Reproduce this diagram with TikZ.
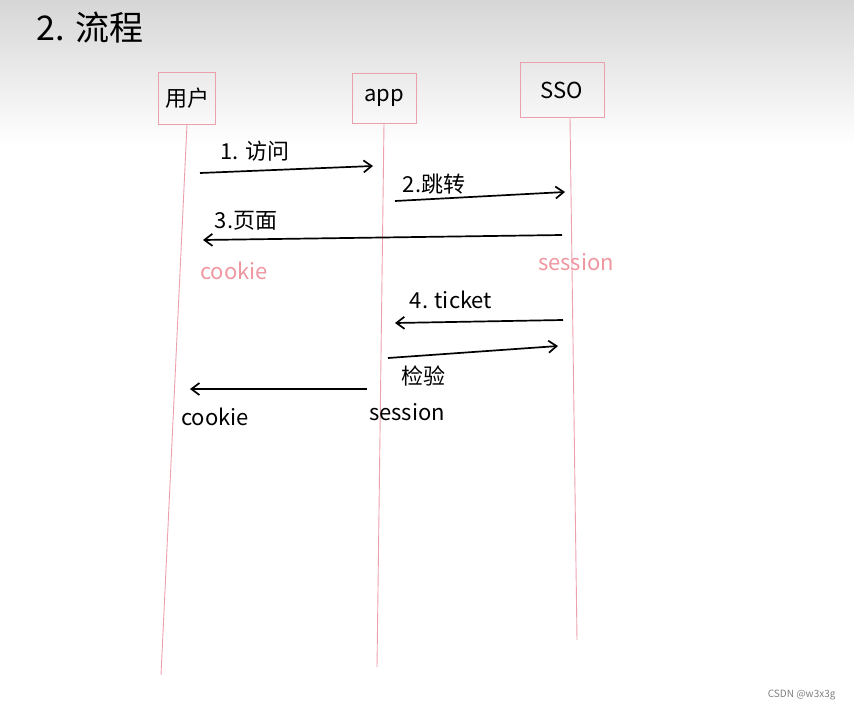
\documentclass[tikz,border=0pt]{standalone}
\usepackage{fontspec}
\setmainfont{Noto Sans CJK SC}
\usepackage{tikz}
\usetikzlibrary{arrows.meta}
\definecolor{pinkline}{RGB}{236,160,172}
\definecolor{pinktext}{RGB}{240,150,160}
\definecolor{topgray}{RGB}{214,214,214}

\begin{document}
\begin{tikzpicture}[x=1pt,y=-1pt,
  lifebox/.style={draw=pinkline,line width=0.9pt,minimum height=52pt,inner sep=0pt,font=\fontsize{22}{24}\selectfont},
  lifeline/.style={pinkline,line width=0.9pt},
  msg/.style={line width=1.7pt,-{Straight Barb[length=8pt,width=12pt]}},
  lbl/.style={font=\fontsize{22}{24}\selectfont},
  memo/.style={pinktext,font=\fontsize{22}{24}\selectfont}]
\useasboundingbox (0,0) rectangle (854,712);
\shade[top color=topgray,bottom color=white] (0,0) rectangle (854,145);
\node[font=\fontsize{34}{36}\selectfont] (title) at (90,28) {2. 流程};
\node[lifebox,minimum width=57pt] (user) at (187,98) {用户};
\node[lifebox,minimum width=64pt,minimum height=50pt] (app) at (384,98) {app};
\node[lifebox,minimum width=84pt,minimum height=55pt] (sso) at (562,90) {SSO};
\coordinate (userend) at (161,675);
\coordinate (append) at (377,667);
\coordinate (ssoend) at (577,640);
\draw[lifeline] (user.south) -- (userend);
\draw[lifeline] (app.south) -- (append);
\draw[lifeline] ([xshift=8pt]sso.south) -- (ssoend);
%% messages
\coordinate (m1a) at (200,173); \coordinate (m1b) at (373,166);
\coordinate (m2a) at (395,201); \coordinate (m2b) at (565,192);
\coordinate (m3a) at (562,235); \coordinate (m3b) at (203,240);
\coordinate (m4a) at (563,320); \coordinate (m4b) at (395,323);
\coordinate (m5a) at (388,358); \coordinate (m5b) at (558,346);
\coordinate (m6a) at (367,389); \coordinate (m6b) at (190,389);
\draw[msg] (m1a) -- (m1b);
\draw[msg] (m2a) -- (m2b);
\draw[msg] (m3a) -- (m3b);
\draw[msg] (m4a) -- (m4b);
\draw[msg] (m5a) -- (m5b);
\draw[msg] (m6a) -- (m6b);
\node[lbl] (l1) at (255,151) {1. 访问};
\node[lbl] (l2) at (434,184) {2.跳转};
\node[lbl] (l3) at (246,221) {3.页面};
\node[memo] (c1) at (234,271) {cookie};
\node[memo] (s1) at (576,262) {session};
\node[lbl] (l4) at (451,300) {4. ticket};
\node[lbl] (l5) at (423,376) {检验};
\node[lbl] (c2) at (215,417) {cookie};
\node[lbl] (s2) at (407,412) {session};
\node[gray,font=\fontsize{10}{12}\selectfont,anchor=east] (mark) at (839,695) {CSDN @w3x3g};
\end{tikzpicture}
\end{document}
